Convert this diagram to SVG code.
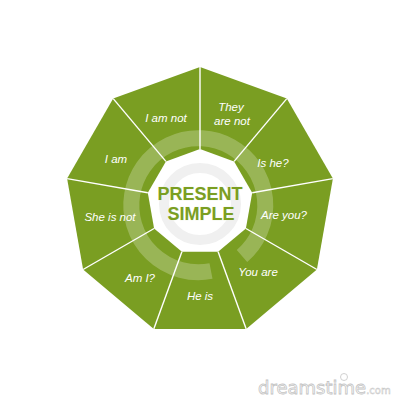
<svg xmlns="http://www.w3.org/2000/svg" width="400" height="400" viewBox="0 0 400 400">
<style>
.seg{font-family:"Liberation Sans",Arial,sans-serif;font-size:11.5px;font-style:italic;fill:#ffffff;text-anchor:middle}
.title{font-family:"Liberation Sans",Arial,sans-serif;font-size:18px;font-weight:bold;fill:#7a9e22;text-anchor:middle;stroke:#eef3e0;stroke-width:0.6;paint-order:stroke}
.wm{font-family:"DejaVu Sans",sans-serif;fill:#ffffff;stroke:#c4c4c4;stroke-width:0.8}
</style>
<rect width="400" height="400" fill="#ffffff"/>
<g id="nonagon">
<polygon points="200,67 286.8,98.6 332.9,178.6 316.9,269.5 246.2,328.9 153.8,328.9 83.1,269.5 67.1,178.6 113.2,98.6" fill="#7a9e22"/>
<path d="M242,256 A67,67 0 1 0 211,271" fill="none" stroke="#ffffff" stroke-opacity="0.24" stroke-width="16"/>
<polygon points="200,149 234.1,161.4 252.2,192.8 245.9,228.5 218.1,251.8 181.9,251.8 154.1,228.5 147.8,192.8 165.9,161.4" fill="#ffffff"/>
<circle cx="200" cy="204" r="36" fill="none" stroke="#f0f0f0" stroke-width="10"/>
</g>
<g id="connectors" stroke="#ffffff" stroke-width="1.4">
<line x1="200" y1="149" x2="200" y2="67"/>
<line x1="234.1" y1="161.4" x2="286.8" y2="98.6"/>
<line x1="252.2" y1="192.8" x2="332.9" y2="178.6"/>
<line x1="245.9" y1="228.5" x2="316.9" y2="269.5"/>
<line x1="218.1" y1="251.8" x2="246.2" y2="328.9"/>
<line x1="181.9" y1="251.8" x2="153.8" y2="328.9"/>
<line x1="154.1" y1="228.5" x2="83.1" y2="269.5"/>
<line x1="147.8" y1="192.8" x2="67.1" y2="178.6"/>
<line x1="165.9" y1="161.4" x2="113.2" y2="98.6"/>
</g>
<g id="seg-i-am-not"><text class="seg" x="166" y="122">I am not</text></g>
<g id="seg-they-are-not"><text class="seg" x="231" y="111">They</text><text class="seg" x="232" y="125">are not</text></g>
<g id="seg-is-he"><text class="seg" x="273" y="167">Is he?</text></g>
<g id="seg-are-you"><text class="seg" x="284" y="219">Are you?</text></g>
<g id="seg-you-are"><text class="seg" x="258" y="276">You are</text></g>
<g id="seg-he-is"><text class="seg" x="200" y="300">He is</text></g>
<g id="seg-am-i"><text class="seg" x="140" y="282">Am I?</text></g>
<g id="seg-she-is-not"><text class="seg" x="110" y="221">She is not</text></g>
<g id="seg-i-am"><text class="seg" x="116" y="163">I am</text></g>
<g id="center"><text class="title" x="200" y="200">PRESENT</text><text class="title" x="201" y="220">SIMPLE</text></g>
<g id="watermark">
<circle cx="344" cy="377" r="3.5" fill="none" stroke="#c4c4c4" stroke-width="0.8"/>
<text class="wm" x="258" y="394" font-size="18">dreamstime<tspan font-size="10" stroke-width="0.5">.com</tspan></text>
</g>
</svg>
